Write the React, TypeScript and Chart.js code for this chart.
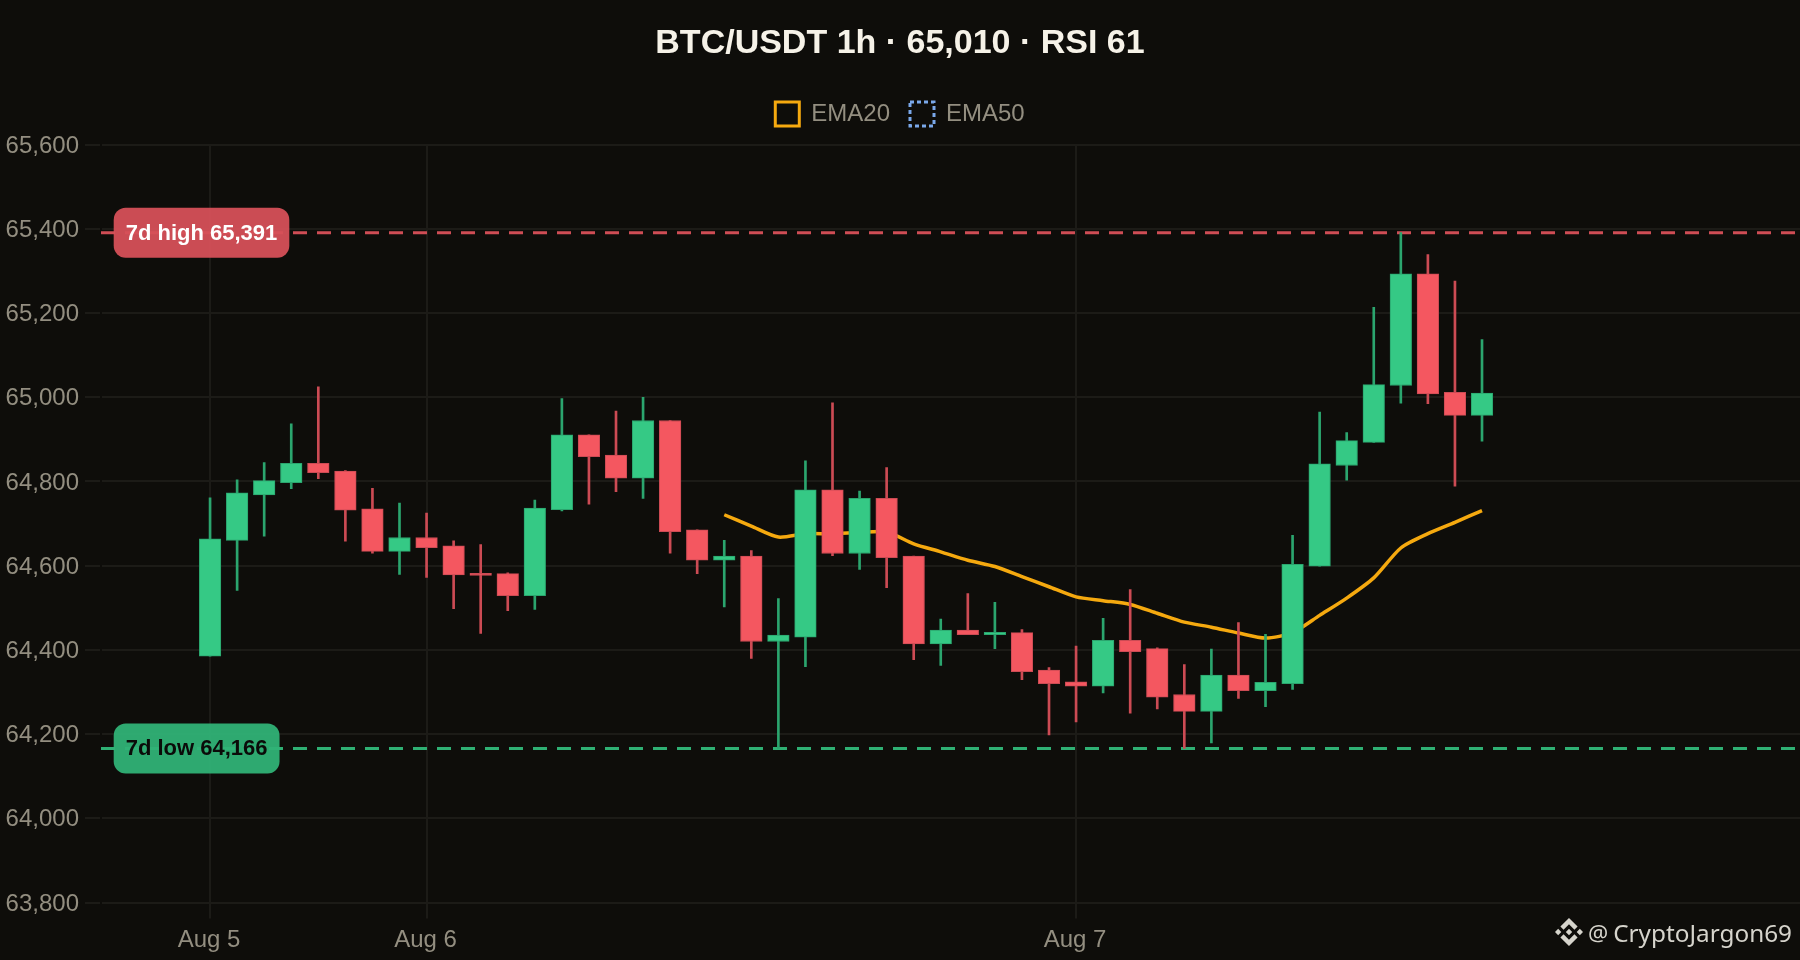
import React, { useEffect, useRef } from "react";
import { Chart, registerables } from "chart.js";

Chart.register(...registerables);

const hours = Array.from({ length: 48 }, (_, i) => i);
const opens = [64385,64660,64768,64797,64843,64825,64735,64634,64667,64647,64582,64581,64529,64733,64911,64863,64808,64945,64685,64613,64623,64420,64430,64780,64629,64760,64623,64414,64447,64436,64441,64352,64324,64314,64423,64403,64294,64254,64340,64303,64320,64599,64838,64893,65028,65293,65012,64957];
const closes = [64664,64773,64802,64843,64821,64732,64634,64667,64643,64578,64577,64529,64737,64911,64859,64808,64945,64681,64613,64623,64420,64435,64780,64629,64760,64619,64414,64447,64436,64442,64348,64320,64314,64423,64396,64288,64254,64340,64303,64323,64603,64842,64897,65030,65293,65008,64957,65010];
const highs = [64761,64804,64845,64937,65025,64826,64784,64749,64725,64659,64650,64583,64756,64997,64911,64967,65000,64945,64685,64660,64636,64522,64849,64987,64777,64833,64623,64473,64534,64513,64448,64358,64409,64475,64543,64405,64365,64402,64465,64437,64672,64965,64916,65214,65391,65339,65276,65137];
const lows = [64385,64541,64670,64783,64807,64658,64630,64579,64572,64498,64439,64493,64496,64730,64746,64776,64760,64630,64581,64502,64380,64166,64360,64624,64591,64548,64377,64363,64436,64403,64329,64198,64229,64298,64250,64260,64166,64179,64285,64265,64306,64599,64803,64893,64986,64985,64789,64896];
const ema20Start = 19;
const ema20 = [64721,64694,64668,64676,64676,64679,64680,64652,64633,64613,64598,64574,64550,64526,64517,64508,64487,64466,64454,64440,64428,64441,64482,64523,64571,64642,64676,64703,64731];
const ema50: number[] = [];
const tickIndexes = [0, 8, 32];
const tickLabels = ["Aug 5", "Aug 6", "Aug 7"];
const high7d = 65391;
const low7d = 64166;
const titleText = "BTC/USDT 1h · 65,010 · RSI 61";

const BG = "#0e0d0a";
const GREEN = "#35c985";
const GREEN_EDGE = "#2ba56e";
const RED = "#f45760";
const RED_EDGE = "#cc4b54";
const MUTED = "#938e80";
const GRID = "#1c1b17";
const FONT = '"Liberation Sans", Arial, sans-serif';

const pillPlugin = {
  id: "pills",
  beforeInit(chart: any) {
    const fit = chart.legend.fit;
    chart.legend.fit = function () {
      fit.call(this);
      this.height += 8.75;
    };
  },
  afterDatasetsDraw(chart: any) {
    const { ctx, scales, chartArea } = chart;
    const pills = [
      { text: `7d high ${high7d.toLocaleString("en-US")}`, value: high7d, bg: "rgba(214,80,88,0.95)", fg: "#ffffff" },
      { text: `7d low ${low7d.toLocaleString("en-US")}`, value: low7d, bg: "rgba(48,178,118,0.95)", fg: "#0b0b09" },
    ];
    ctx.save();
    ctx.font = `bold 22px ${FONT}`;
    ctx.textBaseline = "middle";
    ctx.textAlign = "left";
    for (const p of pills) {
      const cy = scales.y.getPixelForValue(p.value);
      const w = ctx.measureText(p.text).width + 24;
      const x = chartArea.left + 12.7;
      ctx.beginPath();
      ctx.roundRect(x, cy - 25, w, 50, 12);
      ctx.fillStyle = p.bg;
      ctx.fill();
      ctx.fillStyle = p.fg;
      ctx.fillText(p.text, x + 12, cy + 1);
    }
    ctx.restore();
  },
};

export default function App() {
  const ref = useRef<HTMLCanvasElement>(null);
  useEffect(() => {
    const xMin = -4.03;
    const xMax = 58.75;
    const up = hours.map((i) => closes[i] >= opens[i]);
    const fills = up.map((u) => (u ? GREEN : RED));
    const edges = up.map((u) => (u ? GREEN_EDGE : RED_EDGE));
    const chart = new Chart(ref.current!, {
      type: "bar",
      plugins: [pillPlugin],
      data: {
        datasets: [
          { type: "line", label: "EMA20", data: ema20.map((y, i) => ({ x: i + ema20Start, y })), borderColor: "#f5a90f", backgroundColor: "transparent", borderWidth: 3.5, pointRadius: 0, tension: 0.25, order: 3 },
          { type: "line", label: "EMA50", data: ema50.map((y, i) => ({ x: i, y })), borderColor: "#7aa8ea", backgroundColor: "transparent", borderWidth: 3, borderDash: [4, 3], pointRadius: 0, order: 3 },
          { type: "line", label: "7d high", data: [{ x: xMin, y: high7d }, { x: xMax, y: high7d }], borderColor: "#cf4d55", borderWidth: 3, borderDash: [14, 10], pointRadius: 0, order: 4 },
          { type: "line", label: "7d low", data: [{ x: xMin, y: low7d }, { x: xMax, y: low7d }], borderColor: "#2fb074", borderWidth: 3, borderDash: [14, 10], pointRadius: 0, order: 4 },
          { type: "bar", label: "wick", data: hours.map((i) => ({ x: i, y: [lows[i], highs[i]] })), backgroundColor: edges, barThickness: 2, grouped: false, order: 2 },
          { type: "bar", label: "body", data: hours.map((i) => ({ x: i, y: [opens[i], closes[i]] })), backgroundColor: fills, borderColor: edges, borderWidth: 1, borderSkipped: false, barThickness: 21.6, grouped: false, order: 1 },
        ] as any,
      },
      options: {
        animation: false,
        responsive: false,
        layout: { padding: { top: 0, right: 0, bottom: 0, left: 0 } },
        plugins: {
          tooltip: { enabled: false },
          title: {
            display: true,
            text: titleText,
            color: "#f6f2e8",
            font: { family: FONT, size: 34, weight: "bold" },
            padding: { top: 23.4, bottom: 17.75 },
          },
          legend: {
            display: true,
            position: "top",
            labels: {
              color: MUTED,
              font: { family: FONT, size: 24 },
              boxWidth: 24,
              boxHeight: 24,
              padding: 20,
              generateLabels: (c: any) =>
                c.data.datasets
                  .map((d: any, i: number) => ({ d, i }))
                  .filter(({ d }: any) => d.label.startsWith("EMA"))
                  .map(({ d, i }: any) => ({
                    text: d.label,
                    datasetIndex: i,
                    fillStyle: "transparent",
                    strokeStyle: d.borderColor,
                    lineWidth: 3,
                    lineDash: d.borderDash || [],
                    fontColor: MUTED,
                  })),
            },
          },
        },
        scales: {
          x: {
            type: "linear",
            offset: false,
            min: xMin,
            max: xMax,
            afterBuildTicks: (axis: any) => {
              axis.ticks = tickIndexes.map((value) => ({ value }));
            },
            afterFit: (axis: any) => {
              axis.height = 57.5;
            },
            grid: { color: GRID, lineWidth: 2, tickLength: 16, offset: false },
            border: { display: false },
            ticks: {
              autoSkip: false,
              maxRotation: 0,
              color: MUTED,
              font: { family: FONT, size: 24 },
              padding: 7.5,
              labelOffset: -1,
              callback: (v: any) => tickLabels[tickIndexes.indexOf(v)] ?? "",
            },
          },
          y: {
            type: "linear",
            min: 63800,
            max: 65600,
            afterFit: (axis: any) => {
              axis.width = 101;
            },
            grid: { color: GRID, lineWidth: 2, tickLength: 16 },
            border: { display: true, color: BG, width: 2 },
            ticks: {
              stepSize: 200,
              color: MUTED,
              font: { family: FONT, size: 24 },
              padding: 6,
              labelOffset: 1.5,
              callback: (v: any) => Number(v).toLocaleString("en-US"),
            },
          },
        },
      } as any,
    });
    return () => chart.destroy();
  }, []);

  return (
    <div style={{ position: "fixed", left: 0, top: 0, width: 1800, height: 960, background: BG, overflow: "hidden" }}>
      <canvas ref={ref} width={1800} height={960} style={{ display: "block", width: 1800, height: 960 }} />
      <div style={{ position: "absolute", left: 1555, top: 912, height: 40, display: "flex", alignItems: "center", color: "#d6d4cc", whiteSpace: "nowrap", fontFamily: '"Noto Sans", sans-serif' }}>
        <svg width="28" height="28" viewBox="0 0 126.61 126.61" fill="#d6d4cc" style={{ display: "block" }}>
          <path d="M38.73 53.2 63.3 28.63l24.6 24.6 14.3-14.31L63.3 0 24.42 38.88zM0 63.31l14.3-14.31 14.31 14.31-14.31 14.3zM38.73 73.41 63.3 97.98l24.59-24.57 14.31 14.29-38.9 38.91-38.9-38.88zM97.99 63.31l14.3-14.31 14.32 14.31-14.31 14.3zM77.83 63.3 63.3 48.76 52.55 59.51l-1.24 1.23-2.54 2.54 14.53 14.54 14.53-14.54z" />
        </svg>
        <span style={{ fontSize: 22.5, marginLeft: 5 }}>@</span>
        <span style={{ fontSize: 24.3, marginLeft: 5 }}>CryptoJargon69</span>
      </div>
    </div>
  );
}
